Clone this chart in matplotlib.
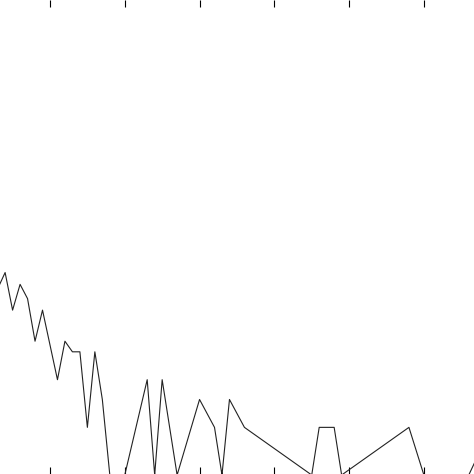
import matplotlib
matplotlib.use("Agg")
import matplotlib.pyplot as plt

x_vals = [3, 4, 5, 6, 7, 8, 9, 11, 12, 13, 14, 15, 16, 17, 18, 20, 23, 24, 25, 27,
          30, 32, 33, 34, 36, 45, 46, 48, 49, 58, 60, 66, 69]
counts = [15, 19, 11, 16, 13, 7, 11, 4, 7, 6, 6, 2, 6, 3, 1, 1, 4, 1, 4, 1,
          3, 2, 1, 3, 2, 1, 2, 2, 1, 2, 1, 1, 2]
x_ticks = [10, 20, 30, 40, 50, 60]

fig = plt.figure(figsize=(4.74, 4.74), dpi=100)
ax = fig.add_axes([0, 0, 1, 1])
ax.plot(x_vals, counts, color="#222222", linewidth=0.8)
ax.set_yscale("log")
ax.set_xlim(3.316, 66.7)
ax.set_ylim(1.015, 1000)
for s in ax.spines.values():
    s.set_visible(False)
ax.set_xticks(x_ticks)
ax.tick_params(axis="x", direction="in", top=True, bottom=True, length=5.3, width=0.8,
               labelbottom=False, labeltop=False, color="black")
ax.tick_params(axis="y", which="both", left=False, right=False, labelleft=False)
ax.minorticks_off()
ax.yaxis.set_minor_locator(matplotlib.ticker.NullLocator())
fig.savefig("out.png", dpi=100)
